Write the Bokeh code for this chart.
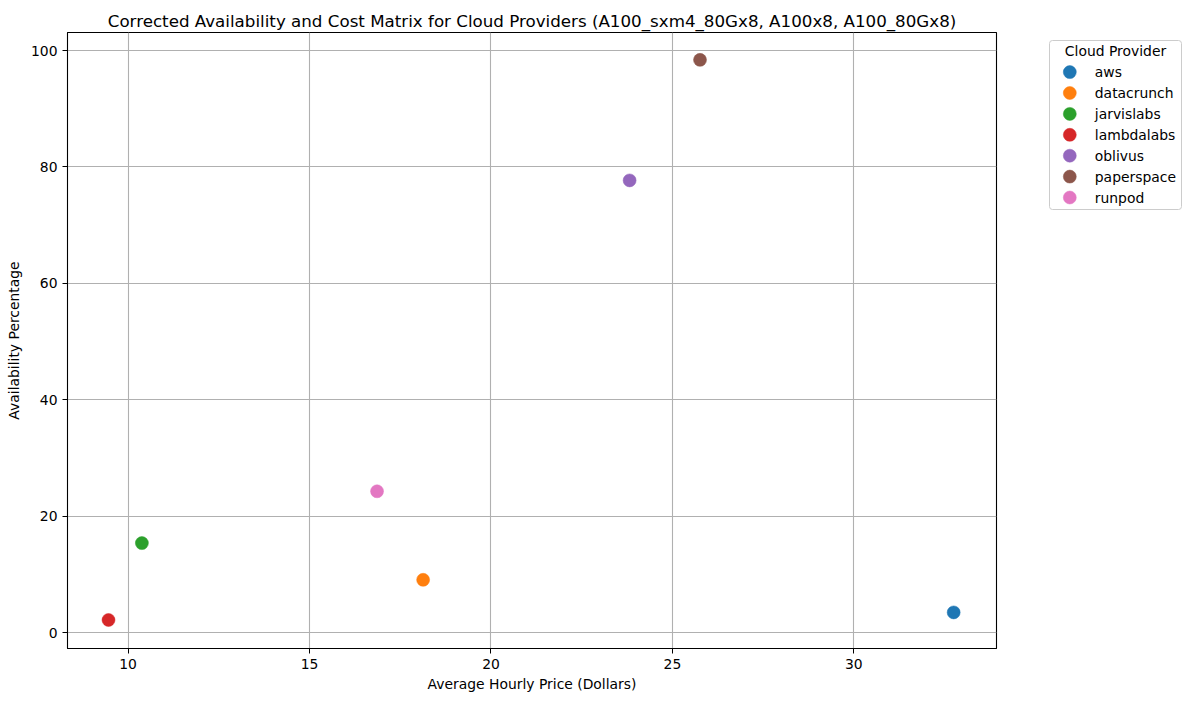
'''
Availability vs. hourly price scatter for the cloud providers (Bokeh).
'''
from bokeh.plotting import figure
from bokeh.layouts import row
from bokeh.models import ColumnDataSource, FixedTicker, Range1d
from bokeh.core.properties import value
from bokeh.embed import file_html
from bokeh.resources import INLINE

# data
providers = ["aws", "datacrunch", "jarvislabs", "lambdalabs", "oblivus", "paperspace", "runpod"]
avg_price = [32.75, 18.13, 10.38, 9.46, 23.82, 25.76, 16.86]
availability = [3.5, 9.1, 15.4, 2.2, 77.7, 98.4, 24.3]
colors = ["#1f77b4", "#ff7f0e", "#2ca02c", "#d62728", "#9467bd", "#8c564b", "#e377c2"]

x_ticks = [10, 15, 20, 25, 30]
y_ticks = [0, 20, 40, 60, 80, 100]

FONT = "DejaVu Sans"
TXT = "13.9px"
MAIN_W, LEG_W, H = 998, 192, 701
TOP, BOTTOM = 32, 53
FRAME_H = H - TOP - BOTTOM

src = ColumnDataSource(dict(price=avg_price, avail=availability, provider=providers, color=colors))

p = figure(
	width=MAIN_W, height=H,
	output_backend="svg", toolbar_location=None,
	x_range=Range1d(8.33, 33.93), y_range=Range1d(-2.7, 103.1),
	title="Corrected Availability and Cost Matrix for Cloud Providers (A100_sxm4_80Gx8, A100x8, A100_80Gx8)",
	min_border_left=67, min_border_right=2, min_border_top=TOP, min_border_bottom=BOTTOM,
)
p.title.align = "center"
p.title.text_font = FONT
p.title.text_font_size = "16.7px"
p.title.text_font_style = "normal"
p.title.text_color = "black"
p.title.standoff = 4

p.outline_line_color = "black"
p.outline_line_width = 1.1
p.background_fill_color = "white"
p.border_fill_color = "white"

# grid like matplotlib's plt.grid(True)
p.grid.grid_line_color = "#b0b0b0"
p.grid.grid_line_width = 1.1

p.xaxis.ticker = FixedTicker(ticks=x_ticks)
p.yaxis.ticker = FixedTicker(ticks=y_ticks)
p.xaxis.axis_label = "Average Hourly Price (Dollars)"
p.yaxis.axis_label = "Availability Percentage"
for ax in (p.xaxis[0], p.yaxis[0]):
	ax.axis_label_text_font = FONT
	ax.axis_label_text_font_size = TXT
	ax.axis_label_text_font_style = "normal"
	ax.major_label_text_font = FONT
	ax.major_label_text_font_size = TXT
	ax.major_label_text_color = "black"
	ax.axis_label_text_color = "black"
	ax.major_tick_in = 0
	ax.major_tick_out = 5
	ax.major_tick_line_color = "black"
	ax.minor_tick_line_color = None
	ax.axis_line_color = "black"
	ax.major_label_standoff = 5
p.xaxis.axis_label_standoff = 4
p.yaxis.axis_label_standoff = 6

p.scatter("price", "avail", source=src, size=13, fill_color="color", line_color="color", line_width=0.5)

# legend drawn in its own small figure; the row aligns its frame with the main
# frame, so coordinates are pixels from the frame's top-left (y down)
leg = figure(
	width=LEG_W, height=H,
	output_backend="svg", toolbar_location=None,
	x_range=Range1d(0, LEG_W), y_range=Range1d(FRAME_H, 0),
	x_axis_location=None, y_axis_location=None,
	min_border_left=0, min_border_right=0, min_border_top=TOP, min_border_bottom=BOTTOM,
)
leg.grid.visible = False
leg.outline_line_color = None
leg.background_fill_color = "white"
leg.border_fill_color = "white"

box_l, box_r, box_t = 51, 183, 8
row_h = 20.9
first_row = 39.6
box_b = first_row + row_h * (len(providers) - 1) + 12
leg.quad(left=[box_l], right=[box_r], top=[box_t], bottom=[box_b], border_radius=3,
	fill_color="white", line_color="#cccccc", line_width=1)
leg.text(x=[(box_l + box_r) / 2], y=[box_t + 10.7], text=["Cloud Provider"],
	text_font=value(FONT), text_font_size=value(TXT), text_align="center",
	text_baseline="middle", text_color="black")

rows = [first_row + row_h * i for i in range(len(providers))]
leg_src = ColumnDataSource(dict(y=rows, label=providers, color=colors))
leg.scatter(x=box_l + 20.3, y="y", source=leg_src, size=13, fill_color="color", line_color="color", line_width=0.5)
leg.text(x=box_l + 45.3, y="y", text="label", source=leg_src,
	text_font=value(FONT), text_font_size=value(TXT), text_baseline="middle", text_color="black")

layout = row(p, leg)

open("out.html", "w").write(file_html(layout, INLINE))
